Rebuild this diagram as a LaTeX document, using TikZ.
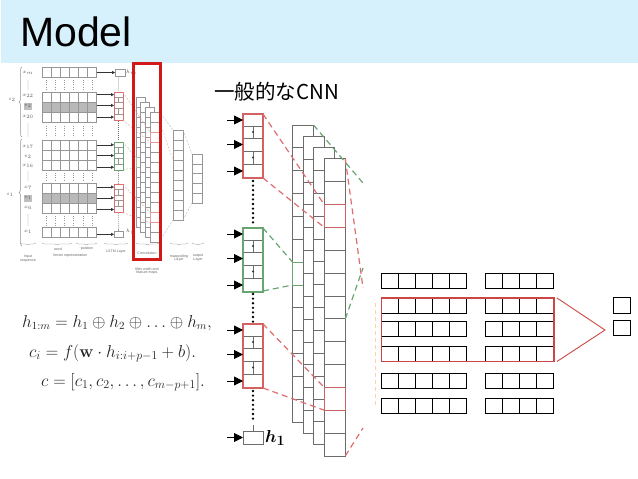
\documentclass[tikz,border=0pt]{standalone}
\usepackage{amsmath}
\usepackage[no-math]{fontspec}
\setmainfont{Liberation Sans}
\newfontfamily\cjkfont{Noto Sans CJK JP}
\usepackage{bm}
\usetikzlibrary{arrows.meta,decorations.pathreplacing}
\definecolor{titleblue}{RGB}{214,241,252}
\definecolor{dred}{RGB}{222,110,110}
\definecolor{dgreen}{RGB}{105,165,115}
\definecolor{boxred}{RGB}{205,70,70}
\definecolor{thickred}{RGB}{210,25,25}
\definecolor{figgray}{RGB}{150,150,150}

\newcommand\cnnpart[1]{%
  \foreach \i in {0,1,2,3}{%
    \foreach \k in {0,...,12}{%
      \draw[cnncell] ({49.5+10.6*\i},{11+11.3*\i+22.85*\k}) rectangle ++(21,22.85);}%
    \ifnum\i=0 \draw[cnngreen] (49.5,148.1) rectangle ++(21,22.85);\fi
  }%
  \draw[cnnred] (81.3,90.6) rectangle ++(21,22.85);
  \draw[cnnred] (81.3,273.4) rectangle ++(21,22.85);
  \foreach \t/\gcol in {0/grpred,114/grpgreen,210/grpred}{%
    \draw[lstmbox] (0,\t) rectangle ++(20,12);
    \draw[lstmbox] (0,\t+24) rectangle ++(20,13);
    \draw[lstmbox] (0,\t+50) rectangle ++(20,14);
    \draw[lstmbox] (10,\t+12) -- ++(0,12) (10,\t+37) -- ++(0,13);
    \fill[lstmdot] (10,\t+18) circle (1.1) (10,\t+43.5) circle (1.1);
    \draw[\gcol] (0,\t) rectangle ++(20,64);
    \foreach \a in {6,30.5,57}{\draw[lstmarrow] (#1,\t+\a) -- (0,\t+\a);}
  }%
  \draw[lstmdots] (10,67) -- (10,112);
  \draw[lstmdots] (10,180) -- (10,208);
  \draw[lstmdots] (10,277) -- (10,309);
  \draw[lstmbox] (10,311) -- (10,317);
  \draw[lstmbox] (0,317) rectangle (20,330);
  \draw[lstmarrow] (#1,323.5) -- (0,323.5);
  \draw[dashred] (20,0) -- (81.3,90.6);
  \draw[dashred] (20,64) -- (81.3,113.45);
  \draw[dashred] (20,210) -- (81.3,273.4);
  \draw[dashred] (20,274) -- (81.3,296.25);
  \draw[dashgreen] (20,114) -- (49.5,148.1);
  \draw[dashgreen] (20,177) -- (49.5,171);
}

\begin{document}
\begin{tikzpicture}[x=1pt,y=-1pt,line join=miter,
  gridbox/.style={draw=black, line width=1pt},
  figline/.style={draw=figgray, line width=0.45pt},
  figdots/.style={draw=gray!70!black, line width=0.9pt, line cap=round, dash pattern=on 0pt off 2pt},
  tinytext/.style={font=\fontsize{3.6}{3.8}\selectfont, text=gray!80!black, inner sep=0pt, align=center},
  figlabel/.style={font=\fontsize{5}{5}\selectfont, text=gray!70!black, inner sep=0pt},
  eqtext/.style={anchor=base west, text=black!85, inner sep=0pt}]
\useasboundingbox (0,0) rectangle (638,479);
\fill[white] (0,0) rectangle (638,479);

% title bar
\fill[titleblue] (1,0) rectangle (638,63);
\node[anchor=base west, font=\fontsize{41}{41}\selectfont, inner sep=0pt] (title) at (20,46) {Model};

% ================= left figure =================
\foreach \ya/\n/\sh in {67/1/0, 92/3/1, 140/3/0, 183/3/1, 227/1/0}{%
  \ifnum\sh=1 \fill[gray!55] (42,\ya+10.2) rectangle (96.6,\ya+20.4);\fi
  \foreach \r in {1,...,\n}{%
    \foreach \c in {0,...,5}{%
      \draw[figline] ({42+9.1*\c},{\ya+10.2*(\r-1)}) rectangle ++(9.1,10.2);}}
}
\foreach \yy/\ye in {80/89, 126/137, 173/181, 216/225}{%
  \foreach \c in {0,...,5}{%
    \draw[figgray, line width=0.9pt, dash pattern=on 0.9pt off 1.3pt] ({46.55+9.1*\c},\yy) -- ({46.55+9.1*\c},\ye);}}
% sequence labels
\node[figlabel] (lxm) at (28,73) {$x_m$};
\draw[figdots] (28,81) -- (28,89);
\node[figlabel] (lx22) at (28,96) {$x_{22}$};
\fill[gray!50] (24,102.5) rectangle (32,109.5);
\node[figlabel] (le2a) at (28,106) {$e_2$};
\node[figlabel] (lx20) at (28,117) {$x_{20}$};
\draw[figdots] (28,124) -- (28,136);
\node[figlabel] (lx17) at (28,147) {$x_{17}$};
\node[figlabel] (le2b) at (28,157) {$e_2$};
\node[figlabel] (lx16) at (28,166) {$x_{16}$};
\draw[figdots] (28,172) -- (28,180);
\node[figlabel] (lx7) at (28,188) {$x_7$};
\fill[gray!50] (24,194.5) rectangle (32,201.5);
\node[figlabel] (le1) at (28,198) {$e_1$};
\node[figlabel] (lx6) at (28,208) {$x_6$};
\draw[figdots] (28,215) -- (28,225);
\node[figlabel] (lx1) at (28,232) {$x_1$};
\draw[figgray, line width=0.5pt, decorate, decoration={brace, amplitude=3pt}] (22,137) -- (22,67);
\draw[figgray, line width=0.5pt, decorate, decoration={brace, amplitude=3pt}] (22,246) -- (22,139);
\node[figlabel] (ls2) at (12,100) {$s_2$};
\node[figlabel] (ls1) at (10,195) {$s_1$};
% bottom braces and labels
\foreach \xa/\xb in {20/36, 42/72, 76/97, 104/128, 136/159, 170/188, 192/204}{%
  \draw[figgray, line width=0.4pt, decorate, decoration={brace, amplitude=2pt}] (\xb,243) -- (\xa,243);}
\node[tinytext] (tin) at (28,259) {Input\\sequence};
\node[tinytext] (tword) at (58,249) {word};
\node[tinytext] (tpos) at (87,249) {position};
\node[tinytext] (tvec) at (70,256) {Vector representation};
\node[tinytext] (tlstm) at (116,252) {LSTM Layer};
\node[tinytext] (tconv) at (147,253) {Convolution};
\node[tinytext] (tfilt) at (147,271) {filter width and\\feature maps};
\node[tinytext] (tpool) at (179,258) {maxpooling\\Layer};
\node[tinytext] (tout) at (198,258) {output\\Layer};
% top h_m box
\draw[figline] (115,69) rectangle (125,76);
\draw[black!80, line width=0.4pt, -{Triangle[length=3pt,width=3pt]}] (96.6,72.5) -- (115,72.5);
\node[figlabel, anchor=west] (lhm) at (126,72) {$h_m$};
\draw[black!70, line width=0.9pt, line cap=round, dash pattern=on 0pt off 2pt] (118.5,78) -- (118.5,91);
\node[figlabel, anchor=west] (lh1) at (126,232) {$h_1$};
% pooling and output
\foreach \k in {0,...,8}{\draw[figline] (173,{130+10*\k}) rectangle ++(10,10);}
\foreach \k in {0,...,4}{\draw[figline] (192,{154+9.8*\k}) rectangle ++(10,9.8);}
\draw[figgray!70, line width=0.4pt, dash pattern=on 2pt off 1.5pt] (159,111) -- (173,130);
\draw[figgray!70, line width=0.4pt, dash pattern=on 2pt off 1.5pt] (159,242) -- (173,220);
\draw[dred!60, line width=0.4pt, dash pattern=on 2pt off 1.5pt] (159,120) -- (173,160);
\draw[figgray!70, line width=0.4pt, dash pattern=on 2pt off 1.5pt] (183,130) -- (192,154);
\draw[figgray!70, line width=0.4pt, dash pattern=on 2pt off 1.5pt] (183,220) -- (192,203);
% LSTM + conv (small)
\begin{scope}[shift={(114,92)}, scale=0.44,
  cnncell/.style={draw=figgray, fill=white, line width=0.4pt},
  cnnred/.style={draw=dred!70, line width=0.4pt},
  cnngreen/.style={draw=dgreen!70, line width=0.4pt},
  lstmbox/.style={draw=figgray, line width=0.4pt},
  grpred/.style={draw=dred, line width=0.5pt},
  grpgreen/.style={draw=dgreen, line width=0.5pt},
  lstmdot/.style={figgray},
  lstmarrow/.style={black!80, line width=0.4pt, -{Triangle[length=3pt,width=3pt]}},
  dashred/.style={draw=dred!70, line width=0.4pt, dash pattern=on 2pt off 1.5pt},
  dashgreen/.style={draw=dgreen!70, line width=0.4pt, dash pattern=on 2pt off 1.5pt},
  lstmdots/.style={black!70, line width=0.9pt, line cap=round, dash pattern=on 0pt off 2pt}]
  \cnnpart{-39.5}
\end{scope}
\draw[thickred, line width=3pt] (133.2,63.2) rectangle (160.8,259.5);

% ================= equations =================
\node[eqtext, font=\fontsize{16.2}{16.2}\selectfont] (eq1) at (22,327) {$h_{1:m} = h_1 \oplus h_2 \oplus \ldots \oplus h_m,$};
\node[eqtext, font=\fontsize{17.8}{17.8}\selectfont] (eq2) at (29,357) {$c_i = f(\mathbf{w} \cdot h_{i:i+p-1} + b).$};
\node[eqtext, font=\fontsize{16.6}{16.6}\selectfont] (eq3) at (41,386) {$c = [c_1, c_2, \ldots, c_{m-p+1}].$};

% ================= middle CNN =================
\node[anchor=base west, font=\cjkfont\fontsize{20.5}{20.5}\selectfont, inner sep=0pt] (cnnlab) at (214,99) {一般的なCNN};
\begin{scope}[shift={(243,114)},
  cnncell/.style={draw=gray!85!black, fill=white, line width=0.9pt},
  cnnred/.style={draw=dred!90!black, line width=0.9pt},
  cnngreen/.style={draw=dgreen, line width=0.9pt},
  lstmbox/.style={draw=gray!85!black, line width=0.8pt},
  grpred/.style={draw=boxred!85, line width=1.1pt},
  grpgreen/.style={draw=dgreen, line width=1.1pt},
  lstmdot/.style={black!80},
  lstmarrow/.style={black, line width=0.9pt, -{Triangle[length=9pt,width=9pt]}},
  dashred/.style={draw=dred, line width=1.2pt, dash pattern=on 6pt off 4pt},
  dashgreen/.style={draw=dgreen, line width=1.2pt, dash pattern=on 6pt off 4pt},
  lstmdots/.style={black, line width=2.6pt, line cap=round, dash pattern=on 0pt off 4.6pt}]
  \cnnpart{-16}
  \draw[dashred] (102.3,44.9) -- (120,174);
  \draw[dashred] (102.3,341.9) -- (120,314);
  \draw[dashgreen] (70.5,11) -- (120,69);
  \draw[dashgreen] (102.3,204.85) -- (120,154);
  \draw[draw=orange!35, line width=0.8pt, dash pattern=on 4pt off 3pt] (132,189) -- (132,293);
\end{scope}
\node[anchor=west, font=\fontsize{19}{19}\selectfont, inner sep=0pt] (h1lab) at (265,438) {$\bm{h_{1}}$};

% ================= right grid =================
\foreach \y in {273.3,298.3,321.9,346.7,373.3,398.3}{%
  \foreach \c in {0,...,4}{\draw[gridbox] ({381.7+17*\c},\y) rectangle ++(17,15);}
  \foreach \c in {0,...,3}{\draw[gridbox] ({485.7+17*\c},\y) rectangle ++(17,15);}
}
\draw[boxred, line width=1.3pt] (381.7,297.9) rectangle (553.9,361.6);
\coordinate (rt) at (557,298);
\coordinate (rb) at (557,361.5);
\coordinate (tip) at (605,330);
\draw[boxred, line width=0.9pt] (rt) -- (tip) -- (rb);
\node[gridbox, minimum width=16.7pt, minimum height=15.6pt, inner sep=0pt] (o1) at (621.65,305.5) {};
\node[gridbox, minimum width=16.7pt, minimum height=15.7pt, inner sep=0pt] (o2) at (621.65,327.85) {};
\end{tikzpicture}
\end{document}
